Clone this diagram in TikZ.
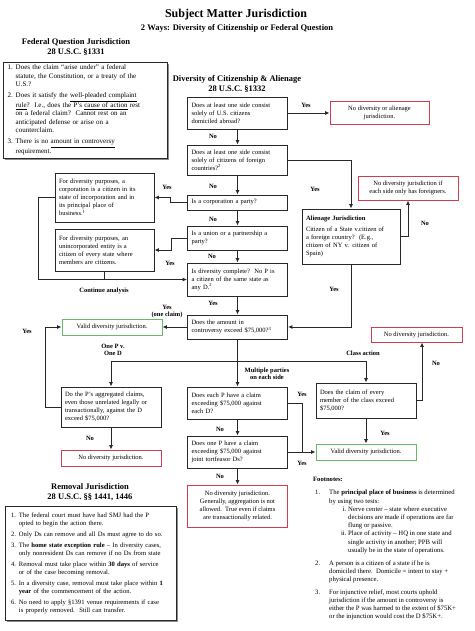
\documentclass[tikz,border=0pt]{standalone}
\usepackage{fontspec}
\setmainfont{Liberation Serif}
\usetikzlibrary{arrows.meta,shadows}
\definecolor{boxred}{RGB}{208,62,78}
\definecolor{boxgreen}{RGB}{104,186,104}
\definecolor{ink}{RGB}{40,40,40}
\newcommand\fsz[2]{\fontsize{#1}{#2}\selectfont}
\begin{document}
\begin{tikzpicture}[x=1pt,y=-1pt,
  every node/.style={inner sep=0pt},
  hdr/.style={align=center,font=\bfseries\fsz{8.5}{10}},
  fbox/.style={draw=ink,line width=0.9pt,fill=white,minimum width=100pt,text width=92pt,inner xsep=4pt,align=left,font=\fsz{6.5}{8}},
  rbox/.style={draw=boxred,line width=0.9pt,fill=white,minimum width=100pt,align=center,font=\fsz{6.5}{8}},
  gbox/.style={draw=boxgreen,line width=0.9pt,fill=white,minimum width=100pt,align=center,font=\fsz{6.5}{8}},
  listbox/.style={draw=ink,line width=0.8pt,fill=white,drop shadow={shadow xshift=1.6pt,shadow yshift=-1.6pt,fill=black!45,opacity=1},align=left,font=\fsz{7}{8.5}},
  lab/.style={font=\bfseries\fsz{6.5}{7.5},align=center},
  conn/.style={draw=ink,line width=0.9pt,-{Latex[length=4.5pt,width=4pt]}},
  plain/.style={draw=ink,line width=0.9pt}
]
\useasboundingbox (0,0) rectangle (474,631);

% headers
\node[font=\bfseries\fsz{12}{14}] (title) at (236,15) {Subject Matter Jurisdiction};
\node[font=\bfseries\fsz{8.5}{10}] (sub) at (237,28) {2 Ways: Diversity of Citizenship or Federal Question};
\node[hdr] (fqh) at (76,47) {Federal Question Jurisdiction\\28 U.S.C. §1331};
\node[hdr] (dch) at (237,84) {Diversity of Citizenship \& Alienage\\28 U.S.C. §1332};
\node[hdr] (rmh) at (90,492) {Removal Jurisdiction\\28 U.S.C. §§ 1441, 1446};

% federal question box
\node[listbox,minimum width=164pt,minimum height=96pt,text width=155pt,inner xsep=4.5pt] (fq) at (85,110) {%
\begin{tabular}{@{}l@{\hspace{3pt}}l@{}}
1. & Does the claim “arise under” a federal\\
   & statute, the Constitution, or a treaty of the\\
   & U.S.?\\[2.5pt]
2. & Does it satisfy the \underline{well-pleaded complaint}\\
   & \underline{rule}?\ \ I.e., does the P's \underline{cause of action} rest\\
   & on a federal claim?\ \ Cannot rest on an\\
   & anticipated defense or arise on a\\
   & counterclaim.\\[2.5pt]
3. & There is no \underline{amount in controversy}\\
   & requirement.
\end{tabular}};

% removal box
\node[listbox,minimum width=171pt,minimum height=114pt,text width=159pt,inner xsep=6pt,font=\fsz{6.6}{8}] (rm) at (90.5,563) {%
\begin{tabular}{@{}l@{\hspace{3pt}}l@{}}
1. & The federal court must have had SMJ had the P\\
   & opted to begin the action there.\\[3pt]
2. & Only Ds can remove and all Ds must agree to do so.\\[3pt]
3. & The \textbf{home state exception rule} – In diversity cases,\\
   & only nonresident Ds can remove if no Ds from state\\[3pt]
4. & Removal must take place within \textbf{30 days} of service\\
   & or of the case becoming removal.\\[3pt]
5. & In a diversity case, removal must take place within \textbf{1}\\
   & \textbf{year} of the commencement of the action.\\[3pt]
6. & No need to apply §1391 venue requirements if case\\
   & is properly removed.\ \ Still can transfer.
\end{tabular}};

% diversity flow
\node[fbox,minimum height=32pt] (A) at (237.5,113) {Does at least one side consist\\solely of U.S. citizens\\domiciled abroad?};
\node[rbox,minimum width=99pt,minimum height=23pt] (R1) at (379.5,113) {No diversity or alienage\\jurisdiction.};
\node[fbox,minimum height=30pt] (B) at (237.5,160) {Does at least one side consist\\solely of citizens of foreign\\countries?\textsuperscript{2}};
\node[fbox,minimum height=15pt] (C) at (237.5,202.5) {Is a corporation a party?};
\node[fbox,minimum height=24pt] (D) at (237.5,238) {Is a union or a partnership a\\party?};
\node[fbox,minimum height=33pt] (E) at (237.5,279.5) {Is diversity complete?\ \ No P is\\a citizen of the same state as\\any D.\textsuperscript{2}};
\node[fbox,minimum height=24pt] (F) at (237.5,327) {Does the amount in\\controversy exceed \$75,000?\textsuperscript{3}};

\node[fbox,minimum width=99pt,text width=91pt,minimum height=49pt] (Corp) at (104.5,197.5) {For diversity purposes, a\\corporation is a citizen in its\\state of incorporation and in\\its principal place of\\business.\textsuperscript{1}};
\node[fbox,minimum width=99pt,text width=91pt,minimum height=42pt] (Un) at (104.5,250) {For diversity purposes, an\\unincorporated entity is a\\citizen of every state where\\members are citizens.};

\node[rbox,minimum height=24pt] (R2) at (408,188) {No diversity jurisdiction if\\each side only has foreigners.};
\node[fbox,minimum width=98pt,text width=90pt,minimum height=55pt] (Al) at (351,236.5) {\textbf{Alienage Jurisdiction}\\[3pt]Citizen of a State v.citizen of\\a foreign country?\ \ (E.g.,\\citizen of NY v. citizen of\\Spain)};

\node[gbox,minimum height=16pt] (G1) at (112,327) {Valid diversity jurisdiction.};
\node[fbox,minimum height=40pt] (Agg) at (111,407) {Do the P's aggregated claims,\\even those unrelated legally or\\transactionally, against the D\\exceed \$75,000?};
\node[rbox,minimum height=16pt] (RA) at (111,458) {No diversity jurisdiction.};

\node[fbox,minimum height=32pt] (G) at (237.5,403) {Does each P have a claim\\exceeding \$75,000 against\\each D?};
\node[fbox,minimum height=32pt] (H) at (237.5,452) {Does one P have a claim\\exceeding \$75,000 against\\joint tortfeasor Ds?};
\node[rbox,minimum height=42pt] (R3) at (237.5,506) {No diversity jurisdiction.\\Generally, aggregation is not\\allowed.\ \ True even if claims\\are transactionally related.};

\node[fbox,minimum height=35pt] (Cl) at (366,400.5) {Does the claim of every\\member of the class exceed\\\$75,000?};
\node[gbox,minimum height=16pt] (G2) at (366,452) {Valid diversity jurisdiction.};
\node[rbox,minimum width=91pt,minimum height=15pt] (R4) at (416.5,334.5) {No diversity jurisdiction.};

% connectors
\draw[conn] (A.east) -- (A.east -| R1.west);
\draw[conn] (A.south) -- (B.north);
\draw[conn] (B.east) -- (B.east -| Al.north) -- (Al.north);
\draw[conn] (B.south) -- (C.north);
\draw[conn] (C.west) -- ++(-17,0) |- (Corp.east);
\draw[conn] (C.south) -- (D.north);
\draw[conn] (D.west) -- ++(-16,0) |- (Un.east);
\draw[conn] (D.south) -- (E.north);
\draw[conn] (Corp.west) -- ++(-16,0) |- (E.west);
\draw[plain] (Un.south) -- (Un.south |- E.west);
\draw[conn] (E.south) -- (F.north);
\draw[conn] (Al.south) |- (F.east);
\draw[conn] (Al.east) -| (R2.south);
\draw[conn] (F.west) -- (F.west -| G1.east);
\coordinate (split) at (237.5,361);
\draw[conn] (F.south) -- (G.north);
\draw[conn] (split) -| (Agg.north);
\draw[conn] (split) -| (Cl.north);
\draw[conn] (Agg.west) -- ++(-15,0) |- (G1.west);
\draw[conn] (Agg.south) -- (RA.north);
\draw[conn] (G.south) -- (H.north);
\draw[conn] (G.east) -- ++(14.5,0) |- (G2.west);
\draw[plain] (H.east) -- ++(14.5,0);
\draw[conn] (H.south) -- (R3.north);
\draw[conn] (Cl.south) -- (G2.north);
\draw[conn] (Cl.east) -| ([xshift=5.5pt]R4.south);

% labels
\node[lab] (l1) at (306,105) {Yes};
\node[lab] (l2) at (213,136) {No};
\node[lab] (l3) at (315,189) {Yes};
\node[lab] (l4) at (213,186) {No};
\node[lab] (l5) at (167,187) {Yes};
\node[lab] (l6) at (213,219) {No};
\node[lab] (l7) at (170,263) {Yes};
\node[lab] (l8) at (212,256) {No};
\node[lab] (l9) at (104,291) {Continue analysis};
\node[lab] (l10) at (213,303) {Yes};
\node[lab] (l11) at (334,289) {Yes};
\node[lab] (l12) at (425,223) {No};
\node[lab] (l13) at (167,311.5) {Yes\\(one claim)};
\node[lab] (l14) at (113,350) {One P v.\\One D};
\node[lab] (l15) at (267,374) {Multiple parties\\on each side};
\node[lab] (l16) at (363,353) {Class action};
\node[lab] (l17) at (27,331) {Yes};
\node[lab] (l18) at (90,438) {No};
\node[lab] (l19) at (220,429) {No};
\node[lab] (l20) at (302,394) {Yes};
\node[lab] (l21) at (302,463) {Yes};
\node[lab] (l22) at (220,476) {No};
\node[lab] (l23) at (385,433) {Yes};
\node[lab] (l24) at (436,363) {No};

% footnotes
\node[anchor=west,font=\bfseries\fsz{6.6}{8}] (fnh) at (313,479) {Footnotes:};
\node[anchor=north west,font=\fsz{6.7}{8.2},align=left] (fn) at (313,489) {%
\begin{tabular}{@{}p{16pt}@{}l@{}}
\hspace*{2pt}1. & The \textbf{principal place of business} is determined\\
   & by using two tests:\\
   & \hspace*{11pt}\makebox[8pt][r]{i.\ }Nerve center – state where executive\\
   & \hspace*{19pt}decisions are made if operations are far\\
   & \hspace*{19pt}flung or passive.\\
   & \hspace*{11pt}\makebox[8pt][r]{ii.\ }Place of activity – HQ in one state and\\
   & \hspace*{19pt}single activity in another; PPB will\\
   & \hspace*{19pt}usually be in the state of operations.\\[4.5pt]
\hspace*{2pt}2. & A person is a citizen of a state if he is\\
   & domiciled there.\ \ Domicile = intent to stay +\\
   & physical presence.\\[4.5pt]
\hspace*{2pt}3. & For injunctive relief, most courts uphold\\
   & jurisdiction if the amount in controversy is\\
   & either the P was harmed to the extent of \$75K+\\
   & or the injunction would cost the D \$75K+.
\end{tabular}};
\end{tikzpicture}
\end{document}
